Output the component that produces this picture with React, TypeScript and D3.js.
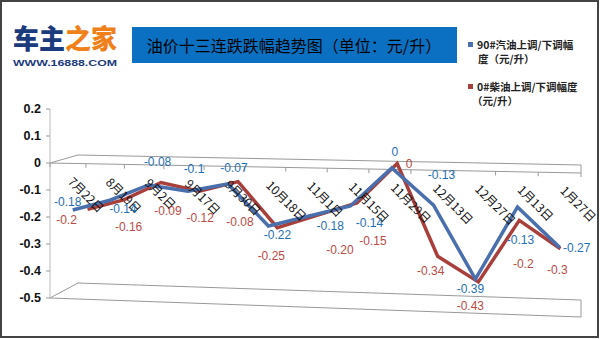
import React from "react";
import * as d3 from "d3";

const categories = ["7月22日", "8月19日", "9月2日", "9月17日", "9月30日", "10月18日", "11月1日", "11月15日", "11月29日", "12月13日", "12月27日", "1月13日", "1月27日"];
const gasoline = [-0.18, -0.14, -0.08, -0.1, -0.07, -0.22, -0.18, -0.14, 0, -0.13, -0.39, -0.13, -0.27];
const diesel = [-0.2, -0.16, -0.09, -0.12, -0.08, -0.25, -0.2, -0.15, 0, -0.34, -0.43, -0.2, -0.3];
const gasolineLabels = ["-0.18", "-0.14", "-0.08", "-0.1", "-0.07", "-0.22", "-0.18", "-0.14", "0", "-0.13", "-0.39", "-0.13", "-0.27"];
const dieselLabels = ["-0.2", "-0.16", "-0.09", "-0.12", "-0.08", "-0.25", "-0.20", "-0.15", "0", "-0.34", "-0.43", "-0.2", "-0.3"];
const yTicks = [0.2, 0.1, 0, -0.1, -0.2, -0.3, -0.4, -0.5];
const yTickLabels = ["0.2", "0.1", "0", "-0.1", "-0.2", "-0.3", "-0.4", "-0.5"];
const seriesNames = ["90#汽油上调/下调幅", "度（元/升）", "0#柴油上调/下调幅度", "（元/升）"];
const title = "油价十三连跌跌幅趋势图（单位：元/升）";

// layout: label offsets relative to their point (centre of text)
const gasOffsets: [number, number][] = [[-5, -8], [13, 9], [9, -23], [6, -22], [6, -16], [9, 9], [21, 10], [19, 17], [3, -16], [8, -30], [-5, 10], [3, 33], [17, 0]];
const dieselOffsets: [number, number][] = [[-21, 11], [5, 27], [7, 28], [1, 27], [2, 40], [-6, 28], [23, 35], [16, 38], [12, 0], [-7, 15], [-8, 24], [4, 44], [-3, 21]];

const W = 600, H = 339;
const BLUE = "#4a6fad", RED = "#a83f3b";
const BLUE_TXT = "#1f6fb6", RED_TXT = "#bb4a45";

const tScale = d3.scaleLinear().domain([0, categories.length]).range([0, 1]);
const xFront = d3.scalePow().exponent(1.05).domain([0, 1]).range([50, 581]);
const depthX = d3.scaleLinear().domain([0, 1]).range([28, 0]);
const zeroFront = d3.scaleLinear().domain([0, 1]).range([163, 173]);
const zeroBack = d3.scaleLinear().domain([0, 1]).range([155, 165]);
const kFront = d3.scaleLinear().domain([0, 1]).range([270, 288]);
const kBack = d3.scaleLinear().domain([0, 1]).range([256, 270]);

function P(t: number, v: number, d: number): [number, number] {
  const x = xFront(t) + d * depthX(t);
  const yF = zeroFront(t) - v * kFront(t);
  const yB = zeroBack(t) - v * kBack(t);
  return [x, yF + d * (yB - yF)];
}

const DEPTH_GAS = 0.2;
const DEPTH_DIESEL = 0.75;

export default function App() {
  const ptsGas = gasoline.map((v, i) => P(tScale(i + 0.5), v, DEPTH_GAS));
  const ptsDie = diesel.map((v, i) => P(tScale(i + 0.5), v, DEPTH_DIESEL));
  const line = d3.line<[number, number]>().x((p) => p[0]).y((p) => p[1]);

  const plane = (v: number) => {
    const a = P(0, v, 0), b = P(0, v, 1), c = P(1, v, 1), e = P(1, v, 0);
    return `M${a[0]},${a[1]}L${b[0]},${b[1]}L${c[0]},${c[1]}L${e[0]},${e[1]}Z`;
  };
  const yMin = yTicks[yTicks.length - 1];
  const yMax = yTicks[0];
  const axTop = P(0, yMax, 0), axBot = P(0, yMin, 0);

  const font = "'Liberation Sans', Arial, 'Noto Sans CJK SC', sans-serif";
  const cjk = "'Noto Sans CJK SC', 'Liberation Sans', sans-serif";

  return (
    <svg width={W} height={H} style={{ position: "absolute", left: 0, top: 0, background: "#fff" }}>
      <rect x={1} y={1} width={W - 3} height={H - 3} fill="#fff" stroke="#444" strokeWidth={2} />

      {/* logo */}
      <text x={13} y={49} fontFamily={cjk} fontWeight={900} fontSize={27} textLength={104} lengthAdjust="spacingAndGlyphs">
        <tspan fill="#1b3b7d">车主</tspan>
        <tspan fill="#f08019">之家</tspan>
      </text>
      <text x={13} y={66} fontFamily={font} fontWeight={700} fontSize={9.5} fill="#1b3b7d" textLength={104} lengthAdjust="spacingAndGlyphs">WWW.16888.COM</text>

      {/* title */}
      <rect x={132} y={27} width={325} height={36} fill="#0b70c1" />
      <text x={294} y={45} textAnchor="middle" dominantBaseline="central" fontFamily={cjk} fontSize={16} fill="#000">{title}</text>

      {/* legend */}
      <rect x={468} y={42} width={5} height={5} fill={BLUE} />
      <text x={477} y={44} dominantBaseline="central" fontFamily={cjk} fontWeight={700} fontSize={10.5} fill="#222">{seriesNames[0]}</text>
      <text x={478} y={58} dominantBaseline="central" fontFamily={cjk} fontWeight={700} fontSize={10.5} fill="#222">{seriesNames[1]}</text>
      <rect x={468} y={84} width={5} height={5} fill={RED} />
      <text x={477} y={86} dominantBaseline="central" fontFamily={cjk} fontWeight={700} fontSize={10.5} fill="#222">{seriesNames[2]}</text>
      <text x={472} y={100} dominantBaseline="central" fontFamily={cjk} fontWeight={700} fontSize={10.5} fill="#222">{seriesNames[3]}</text>

      {/* 3D frame */}
      <path d={plane(yMin)} fill="none" stroke="#999" strokeWidth={1} />
      <path d={plane(0)} fill="none" stroke="#999" strokeWidth={1} />
      <line x1={axTop[0]} y1={axTop[1]} x2={axBot[0]} y2={axBot[1]} stroke="#bbb" strokeWidth={1} />
      {yTicks.map((v, i) => {
        const p = P(0, v, 0);
        return (
          <g key={"yt" + i}>
            <line x1={p[0] - 4} y1={p[1]} x2={p[0]} y2={p[1]} stroke="#999" />
            <text x={41} y={p[1]} textAnchor="end" dominantBaseline="central" fontFamily={font} fontWeight={700} fontSize={12.5} fill="#111">{yTickLabels[i]}</text>
          </g>
        );
      })}
      {d3.range(categories.length + 1).map((j) => {
        const p = P(tScale(j), 0, 0);
        return <line key={"xt" + j} x1={p[0]} y1={p[1]} x2={p[0]} y2={p[1] + 4} stroke="#999" />;
      })}

      {/* series lines */}
      <path d={line(ptsDie) || ""} fill="none" stroke={RED} strokeWidth={3.5} strokeLinejoin="miter" />
      <path d={line(ptsGas) || ""} fill="none" stroke={BLUE} strokeWidth={3.5} strokeLinejoin="miter" />

      {/* category labels */}
      {categories.map((c, i) => {
        const p = P(tScale(i + 0.5), 0, 0);
        return (
          <text key={"c" + i} x={0} y={0} transform={`translate(${p[0]},${p[1] + 19}) rotate(45)`} fontFamily={cjk} fontSize={12} fill="#111">{c}</text>
        );
      })}

      {/* data labels */}
      {ptsDie.map((p, i) => (
        <text key={"dl" + i} x={p[0] + dieselOffsets[i][0]} y={p[1] + dieselOffsets[i][1]} textAnchor="middle" dominantBaseline="central" fontFamily={font} fontSize={12} fill={RED_TXT}>{dieselLabels[i]}</text>
      ))}
      {ptsGas.map((p, i) => (
        <text key={"gl" + i} x={p[0] + gasOffsets[i][0]} y={p[1] + gasOffsets[i][1]} textAnchor="middle" dominantBaseline="central" fontFamily={font} fontSize={12} fill={BLUE_TXT}>{gasolineLabels[i]}</text>
      ))}
    </svg>
  );
}
